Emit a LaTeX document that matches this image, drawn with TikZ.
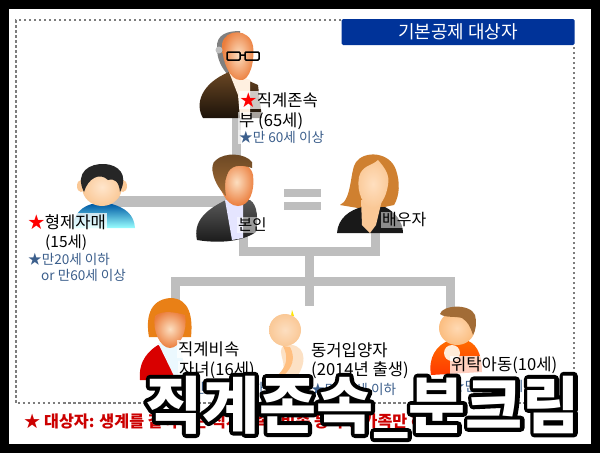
\documentclass[tikz,border=0pt]{standalone}
\usepackage{amssymb}
\usepackage{amsmath}
\usepackage{fontspec}
\setmainfont{Noto Sans CJK KR}
\usepackage{tikz}
\definecolor{linkgray}{RGB}{190,190,190}
\definecolor{dotgray}{RGB}{125,125,125}
\definecolor{titleblue}{RGB}{0,51,153}
\definecolor{noteblue}{RGB}{60,95,140}
\definecolor{skin}{RGB}{250,200,150}
\definecolor{skindark}{RGB}{235,125,60}
\newcommand{\outlinetext}[1]{\rlap{\special{pdf:code 2 Tr 8 w 1 j 0 0 0 RG}#1\special{pdf:code 0 Tr 1 w}}\textcolor{white}{#1}}
\tikzset{
link/.style={draw=linkgray,line width=9pt},
face/.style={shade,inner color=skin!60!white,outer color=skindark},
who/.style={fill=white,fill opacity=0.75,text opacity=1,inner sep=1pt,anchor=west,font=\fontsize{16.6}{18}\selectfont},
note/.style={who,text=noteblue,font=\fontsize{13.6}{15}\selectfont},
}
\begin{document}
\begin{tikzpicture}[x=1pt,y=-1pt]
\useasboundingbox (0,0) rectangle (600,453);
\fill[black] (0,0) rectangle (600,453);
\fill[white] (9,9) rectangle (591,444);
\draw[dotgray,line width=2.5pt,dash pattern=on 2.5pt off 2.5pt] (341,20) -- (16,20) -- (16,403) -- (574,403) -- (574,45);
\node[fill=titleblue,text=white,rounded corners=1.5pt,minimum width=233pt,minimum height=26pt,inner sep=0pt,font=\fontsize{18}{20}\selectfont] (title) at (458,32) {기본공제 대상자};

% joints of the family tree
\coordinate (father) at (236,100);
\coordinate (self) at (236,190);
\coordinate (sibling) at (110,201);
\coordinate (spouse) at (375,225);
\coordinate (selfdown) at (243,230);
\coordinate (coupleleft) at (243,251);
\coordinate (coupleright) at (375,251);
\coordinate (stemtop) at (309,251);
\coordinate (stembottom) at (309,306);
\coordinate (daughter) at (175,310);
\coordinate (daughtertop) at (175,281);
\coordinate (foster) at (450,315);
\coordinate (fostertop) at (450,281);
\draw[link] (father) -- (self);
\draw[link,line width=11pt] (sibling) -- (self |- sibling);
\draw[link] (selfdown) -- (coupleleft) -- (coupleright) -- (spouse);
\draw[link] (stemtop) -- (stembottom);
\draw[link] (daughter) -- (daughtertop) -- (fostertop) -- (foster);
\foreach \y in {193,205.5} {
\fill[linkgray] (284,\y-4) rectangle (321,\y+4);
}

% father
\fill[black!50] (217,48) .. controls (216,34) and (228,31) .. (240,31) -- (240,60) -- (228,75) .. controls (222,68) and (217,60) .. (217,48);
\shade[top color=brown!55!black,bottom color=black!85!brown] (203,118) .. controls (195,105) and (200,84) .. (229,72) -- (258,85) -- (262,118) -- cycle;
\fill[white!88!orange] (229,72) -- (238,95) -- (240,118) -- (250,118) -- (250,80) -- cycle;
\path[face] (222,44) .. controls (225,28) and (250,28) .. (253,46) .. controls (255,60) and (250,82) .. (240,80) .. controls (230,80) and (222,62) .. (222,44) -- cycle;
\draw[black,line width=1.5pt,rounded corners=1pt] (227,52) rectangle (240,60) (245,52) rectangle (259,60) (240,55) -- (245,55);
\fill[black!25] (219,50) circle (3.5);
\node[who] (fatherlabel) at (239,100) {{\color{red}★}직계존속};
\node[who,fill opacity=0.6] (fathertext) at (238,121) {부 (65세)};
\node[note] (fathernote) at (238,137) {★만 60세 이상};

% sibling
\shade[top color=blue!45!cyan!65!black,bottom color=white!60!cyan] (72,228) .. controls (74,212) and (84,206) .. (92,204) -- (112,204) .. controls (125,208) and (134,214) .. (135,228) -- cycle;
\fill[skin] (81,186) ellipse (4 and 6) (123,186) ellipse (4 and 6);
\path[shade,inner color=white!80!orange,outer color=skin] (102,187) ellipse (20 and 19);
\fill[black!85] (84,192) .. controls (74,172) and (90,163) .. (105,164) .. controls (118,165) and (129,174) .. (120,192) .. controls (119,182) and (115,178) .. (108,180) .. controls (100,172) and (88,178) .. (84,192) -- cycle;
\node[who] (siblinglabel) at (27,222) {{\color{red}★}형제자매};
\node[who,font=\fontsize{15.5}{17}\selectfont] (siblingtext) at (44,243) {(15세)};
\node[note] (siblingnote) at (27,259) {★만20세 이하};
\node[note] (siblingnotetwo) at (40,275) {or 만60세 이상};

% self
\shade[top color=black!65,bottom color=black!90] (197,240) .. controls (193,222) and (205,210) .. (226,200) -- (250,200) .. controls (258,205) and (258,220) .. (256,232) .. controls (240,243) and (215,243) .. (197,240) -- cycle;
\fill[white!90!blue] (225,200) -- (232,240) -- (243,238) -- (243,200) -- cycle;
\path[face] (218,172) .. controls (220,160) and (250,158) .. (253,175) .. controls (255,190) and (250,206) .. (238,206) .. controls (226,206) and (218,188) .. (218,172) -- cycle;
\shade[top color=brown!55!black,bottom color=brown!85!black] (226,196) .. controls (214,185) and (208,165) .. (216,160) .. controls (225,152) and (245,153) .. (252,162) -- (252,168) .. controls (240,164) and (230,165) .. (227,175) .. controls (224,182) and (225,190) .. (226,196) -- cycle;
\node[who,fill opacity=0.5,font=\fontsize{15.5}{17}\selectfont] (selflabel) at (237,225) {본인};

% spouse
\fill[brown!75!orange] (340,205) .. controls (352,200) and (350,170) .. (356,162) .. controls (365,150) and (390,152) .. (396,170) .. controls (400,182) and (400,195) .. (394,205) -- (370,210) -- cycle;
\fill[black!90] (337,233) .. controls (338,218) and (350,210) .. (362,207) -- (385,207) .. controls (395,212) and (403,222) .. (403,233) -- cycle;
\fill[skin] (361,200) -- (362,225) -- (370,233) -- (376,225) -- (382,200) -- cycle;
\path[shade,inner color=white!75!orange,outer color=skin] (359,177) .. controls (362,165) and (372,166) .. (378,160) .. controls (385,168) and (390,175) .. (388,185) .. controls (386,198) and (380,208) .. (372,208) .. controls (364,208) and (356,192) .. (359,177) -- cycle;
\node[who,fill opacity=0.5,font=\fontsize{16}{18}\selectfont] (spouselabel) at (381,220) {배우자};

% daughter
\fill[orange!65!brown] (149,337) .. controls (146,320) and (148,300) .. (170,298) .. controls (190,298) and (193,318) .. (191,337) -- cycle;
\fill[red!85!black] (140,380) .. controls (138,360) and (150,350) .. (158,345) -- (180,355) -- (182,380) -- cycle;
\fill[white!92!cyan] (158,343) -- (176,380) -- (186,375) -- (180,345) -- cycle;
\path[face] (155,316) .. controls (162,310) and (175,312) .. (185,315) .. controls (188,330) and (180,348) .. (170,348) .. controls (160,348) and (152,330) .. (155,316) -- cycle;
\node[who] (daughterlabel) at (177,349) {직계비속};
\node[who] (daughtertext) at (178,370) {자녀(16세)};
\node[note] (daughternote) at (178,388) {★만 20세 이하};

% baby
\fill[yellow!90!orange] (291,316) -- (292,310) -- (294,316) -- cycle;
\fill[skin!55!white] (284,345) .. controls (305,342) and (308,360) .. (298,375) -- (280,375) .. controls (290,365) and (275,352) .. (284,345) -- cycle;
\path[shade,inner color=skin!60!white,outer color=skin] (285,330) circle (16);
\fill[orange!50!white] (290,347) .. controls (296,358) and (292,368) .. (284,375) -- (278,375) .. controls (288,365) and (288,356) .. (283,346) -- cycle;
\node[who] (babylabel) at (310,350) {동거입양자};
\node[who,fill opacity=0.5] (babytext) at (310,370) {(2014년 출생)};
\node[note] (babynote) at (310,389) {★만 20세 이하};

% foster child
\shade[top color=orange!85!red,bottom color=red!55!orange] (431,375) .. controls (428,358) and (436,345) .. (450,340) -- (465,340) .. controls (475,342) and (482,352) .. (482,372) -- cycle;
\fill[white!85!orange] (452,353) circle (8);
\path[shade,inner color=white!70!orange,outer color=skin!85!orange] (457,328) ellipse (18 and 17);
\fill[brown!85!black] (440,314) .. controls (442,305) and (470,303) .. (475,315) .. controls (477,322) and (476,330) .. (473,335) .. controls (470,326) and (468,322) .. (462,318) .. controls (455,316) and (445,318) .. (440,314) -- cycle;
\node[who] (fosterlabel) at (450,365) {위탁아동(10세)};
\node[note] (fosternote) at (450,386) {★만 18세 미만};

\node[anchor=west,inner sep=0pt,text=red!80!black,font=\fontsize{16.2}{18}\selectfont\bfseries] (bottomnote) at (24,421) {★ 대상자: 생계를 같이하는 직계존속·비속 등 부양가족만 해당};
\node[inner sep=0pt,font=\fontsize{62}{66}\selectfont\bfseries] (banner) at (362.5,407) {\outlinetext{직계존속\_분크림}};
\end{tikzpicture}
\end{document}
